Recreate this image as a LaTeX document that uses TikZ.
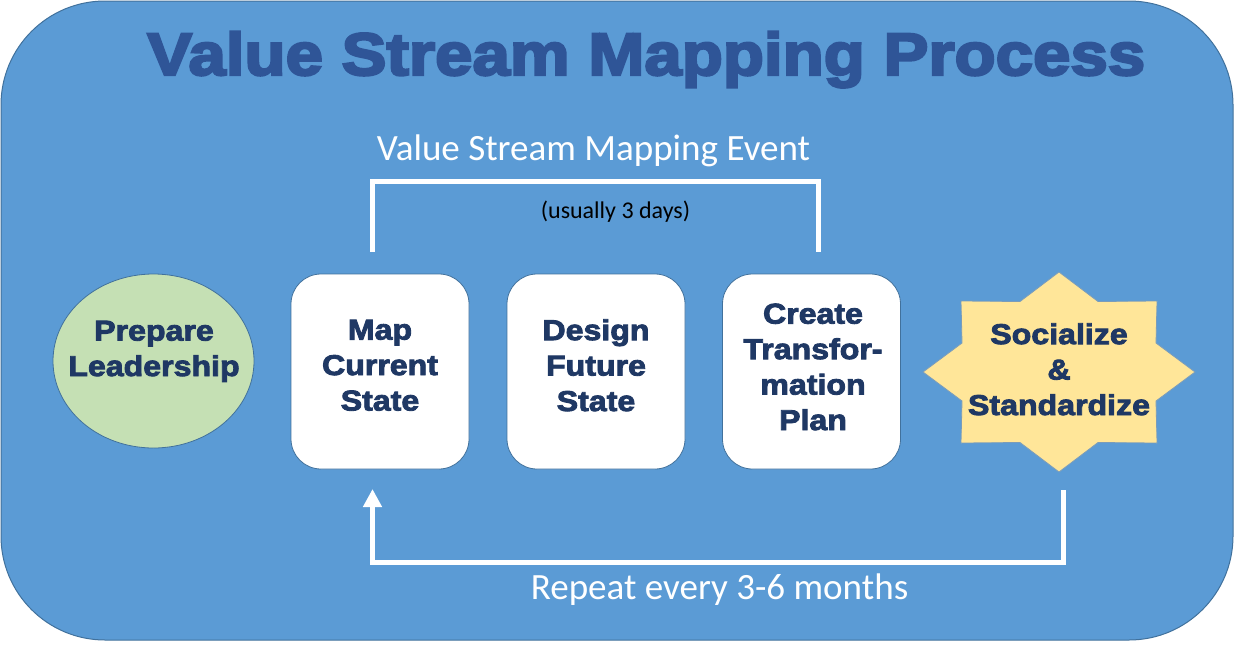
\documentclass[tikz,border=0pt]{standalone}
\usepackage{fontspec}
\usepackage{graphicx}
\usetikzlibrary{shapes.geometric,arrows.meta}
\setmainfont{Carlito}
\newfontfamily\blackfont[BoldFeatures={FakeStretch=1.12,FakeBold=3}]{Liberation Sans}
\newfontfamily\headfont[BoldFeatures={FakeStretch=1.12,FakeBold=4}]{Liberation Sans}
\definecolor{bgblue}{HTML}{5B9BD5}
\definecolor{edgeblue}{HTML}{41719C}
\definecolor{titleblue}{HTML}{2F5597}
\definecolor{navy}{HTML}{1F3864}
\definecolor{leafgreen}{HTML}{C5E0B4}
\definecolor{starfill}{HTML}{FFE699}
\begin{document}
\begin{tikzpicture}[x=0.75pt,y=-0.75pt,
  stepbox/.style={draw=edgeblue, line width=0.6pt, fill=white, rounded corners=22.5pt,
    minimum width=133.5pt, minimum height=146.25pt, inner sep=0pt},
  lbl/.style={text=navy, font=\blackfont\bfseries\fontsize{21.5}{26.6}\selectfont,
    align=center, inner sep=0pt, anchor=base},
  wline/.style={draw=white, line width=3.75pt},
  plain/.style={inner sep=0pt, anchor=base}]
\useasboundingbox (0,0) rectangle (1234,646);
% background panel
\draw[draw=edgeblue, fill=bgblue, line width=0.75pt, rounded corners=78pt] (1,1) rectangle (1233,640);
% title
\node[inner sep=0pt, anchor=base west, text=titleblue] (title) at (147,75)
  {\resizebox{748.5pt}{32.5pt}{\headfont\bfseries Value Stream Mapping Process}};
% event labels
\node[plain, text=white, font=\fontsize{27.8}{32}\selectfont] (event) at (593.5,160) {Value Stream Mapping Event};
\node[plain, text=black, font=\fontsize{18}{22}\selectfont] (days) at (615.5,218) {(usually 3 days)};
% shapes
\node[ellipse, draw=edgeblue, line width=0.6pt, fill=leafgreen, minimum width=150.75pt, minimum height=130.5pt, inner sep=0pt] (prep) at (153.5,361) {};
\node[stepbox] (map) at (380,371.5) {};
\node[stepbox] (design) at (596,371.5) {};
\node[stepbox] (create) at (811.5,371.5) {};
\draw[draw=edgeblue!70, line width=0.6pt, fill=starfill, shift={(1059,372)}]
  (0,-100) -- (39,-70.5) -- (98,-71) -- (97,-29) -- (136,0) -- (97,29) -- (98,71) -- (39,70.5)
  -- (0,100) -- (-39,70.5) -- (-98,71) -- (-97,29) -- (-136,0) -- (-97,-29) -- (-98,-71) -- (-39,-70.5) -- cycle;
\node[inner sep=0pt] (soc) at (1059,372) {};
% texts (base = baseline of last line)
\node[lbl] (preptxt) at (154,376) {Prepare\\Leadership};
\node[lbl] (maptxt) at (380,410.5) {Map\\Current\\State};
\node[lbl] (designtxt) at (596,411) {Design\\Future\\State};
\node[lbl] (createtxt) at (813,430) {Create\\Transfor-\\mation\\Plan};
\node[lbl] (soctxt) at (1059,415) {Socialize\\\&\\Standardize};
% event bracket
\coordinate (evL) at (372.5,252);
\coordinate (evR) at (818,252);
\draw[wline] (evL) -- ++(0,-71) -| (evR);
% repeat loop
\coordinate (rpS) at (1063,490);
\coordinate (rpE) at (372.5,489);
\draw[wline, -{Triangle[width=13.5pt,length=13.5pt]}] (rpS) -- ++(0,72.5) -| (rpE);
\node[plain, text=white, font=\fontsize{27.8}{32}\selectfont] (repeat) at (719.5,599) {Repeat every 3-6 months};
\end{tikzpicture}
\end{document}
